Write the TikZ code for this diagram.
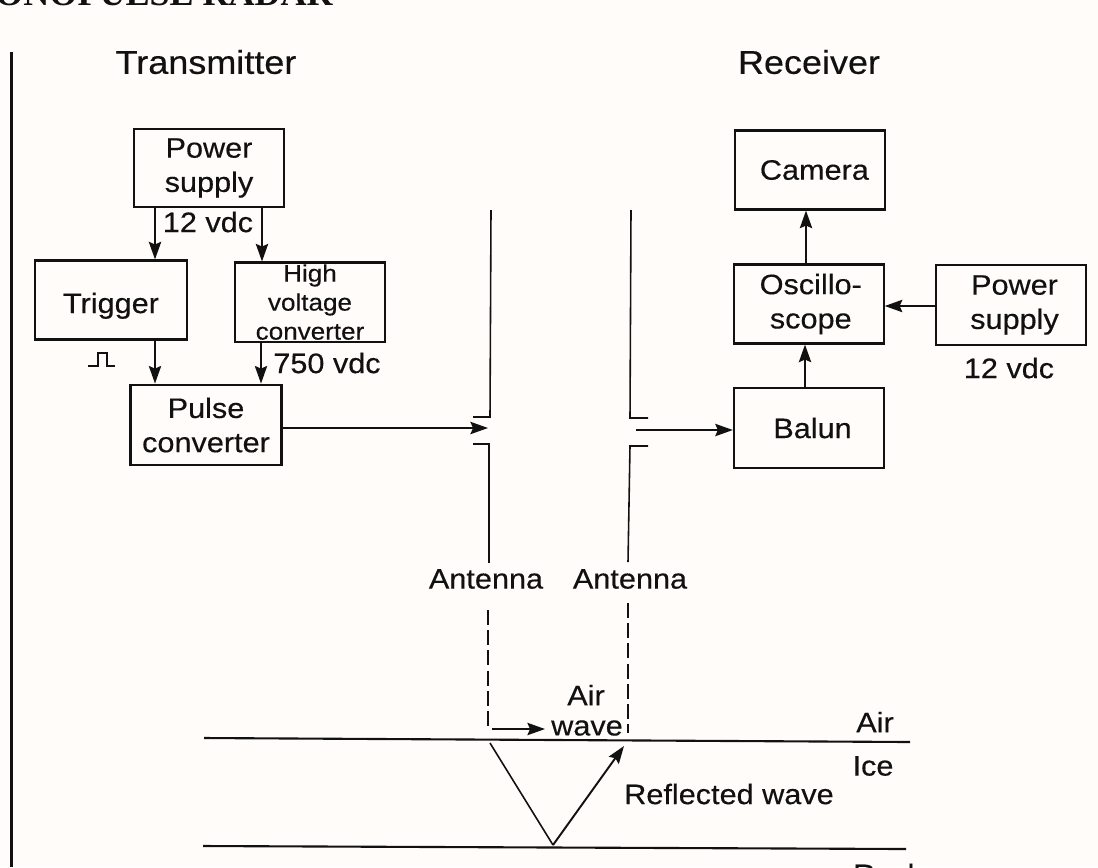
\documentclass[tikz,border=0pt]{standalone}
\usepackage{fontspec}
\setmainfont[FakeStretch=1.09,FakeBold=0.35]{Liberation Sans}
\newfontfamily\titlefont{Liberation Serif}
\usetikzlibrary{arrows.meta}
\definecolor{paper}{HTML}{FFFCFA}
\definecolor{ink}{HTML}{111111}
\tikzset{
  block/.style={draw=ink,line width=1.2pt,rectangle,align=center,text=ink,font=\fontsize{16}{19.5}\selectfont},
  smallblock/.style={block,font=\fontsize{13.6}{16.5}\selectfont},
  lbl/.style={text=ink,inner sep=0pt,align=center,font=\fontsize{16}{19.5}\selectfont},
  headlbl/.style={lbl,font=\fontsize{18.8}{22}\selectfont},
  feed/.style={draw=ink,line width=1.1pt,-{Stealth[length=10pt,width=7pt,inset=1.5pt]}},
  wire/.style={draw=ink,line width=.9pt},
  ground/.style={draw=ink,line width=1.2pt},
}
\begin{document}
\begin{tikzpicture}[x=0.02cm,y=-0.02cm]
\clip (0,0) rectangle (1098,867);
\fill[paper] (0,0) rectangle (1098,867);

\node[text=ink,inner sep=0pt,anchor=base east,font=\fontsize{20.5}{24}\titlefont\bfseries] (title) at (333,5) {MONOPULSE RADAR};
\coordinate (margintop) at (11.5,52);
\coordinate (marginbot) at (11.5,867);
\draw[draw=ink,line width=1.5pt] (margintop) -- (marginbot);

% transmitter
\node[headlbl] (txhead) at (206,62) {Transmitter};
\node[block,minimum width=85pt,minimum height=44.5pt] (txpower) at (209,168) {Power\\supply};
\node[block,minimum width=87pt,minimum height=45pt,text height=14.8pt,text depth=0pt] (trigger) at (111,300) {Trigger};
\node[smallblock,minimum width=85pt,minimum height=45pt,inner sep=0pt,yshift=-.6pt] (hvconv) at (310,301) {High\\voltage\\converter};
\node[block,minimum width=86pt,minimum height=46pt] (pulse) at (206,425) {Pulse\\converter};
\node[lbl] (txvolt) at (208,222) {12 vdc};
\node[lbl] (hvvolt) at (327,363) {750 vdc};

\coordinate (pa) at (88,366);
\coordinate (pb) at (98,366);
\coordinate (pc) at (98,353);
\coordinate (pd) at (107,353);
\coordinate (pe) at (107,366);
\coordinate (pf) at (115,366);
\draw[wire] (pa) -- (pb) -- (pc) -- (pd) -- (pe) -- (pf);

\draw[feed] (txpower.south -| 155,0) -- (trigger.north -| 155,0);
\draw[feed] (txpower.south -| 262,0) -- (hvconv.north -| 262,0);
\draw[feed] (trigger.south -| 155,0) -- (pulse.north -| 155,0);
\draw[feed] (hvconv.south -| 261,0) -- (pulse.north -| 261,0);

% antennas
\coordinate (ltop) at (491,210);
\coordinate (lup) at (490,417);
\coordinate (lupend) at (473,417);
\coordinate (ldownend) at (473,444);
\coordinate (ldown) at (489,444);
\coordinate (lbot) at (489,563);
\coordinate (rtop) at (631,210);
\coordinate (rup) at (630,418);
\coordinate (rupend) at (648,418);
\coordinate (rdownend) at (648,446);
\coordinate (rdown) at (630,446);
\coordinate (rbot) at (628,562);
\draw[wire] (ltop) -- (lup) -- (lupend);
\draw[wire] (ldownend) -- (ldown) -- (lbot);
\draw[wire] (rtop) -- (rup) -- (rupend);
\draw[wire] (rdownend) -- (rdown) -- (rbot);
\node[lbl] (lant) at (486,579) {Antenna};
\node[lbl] (rant) at (630,579) {Antenna};

\coordinate (lfeed) at (488,428);
\coordinate (rfeed) at (636,430);
\draw[feed] (pulse.east |- lfeed) -- (lfeed);

% receiver
\node[headlbl] (rxhead) at (809,62) {Receiver};
\node[block,minimum width=85pt,minimum height=45pt] (camera) at (810,170) {\hspace*{5pt}Camera};
\node[block,minimum width=85pt,minimum height=45pt] (scope) at (809,304) {\hspace*{2pt}Oscillo-\\\hspace*{2pt}scope};
\node[block,minimum width=85pt,minimum height=45.5pt] (rxpower) at (1011,305) {\hspace*{4pt}Power\\\hspace*{4pt}supply};
\node[block,minimum width=85.5pt,minimum height=45.5pt] (balun) at (809,428) {\hspace*{4pt}Balun};
\node[lbl] (rxvolt) at (1009,368) {12 vdc};

\draw[feed] (rfeed) -- (balun.west |- rfeed);
\draw[feed] (scope.north -| 806,0) -- (camera.south -| 806,0);
\draw[feed] (rxpower.west |- 0,306) -- (scope.east |- 0,306);
\draw[feed] (balun.north -| 805,0) -- (scope.south -| 805,0);

% ice section
\coordinate (dla) at (488,610);
\coordinate (dlb) at (488,731);
\coordinate (dra) at (628,603);
\coordinate (drb) at (628,733);
\draw[wire,dash pattern=on 8.5pt off 3pt] (dla) -- (dlb);
\draw[wire,dash pattern=on 8.5pt off 3pt] (dra) -- (drb);

\coordinate (aira) at (204,738);
\coordinate (airb) at (910,742);
\coordinate (rocka) at (203,846);
\coordinate (rockb) at (906,849);
\draw[ground] (aira) -- (airb);
\draw[ground] (rocka) -- (rockb);

\coordinate (wavea) at (492,729);
\coordinate (waveb) at (545,729);
\draw[feed] (wavea) -- (waveb);
\node[lbl] (airwave) at (586,695) {Air};
\node[lbl] (wavetxt) at (587,728) {wave};
\coordinate (dip) at (490,743);
\coordinate (bounce) at (553,845);
\coordinate (arrive) at (624,746);
\draw[wire] (dip) -- (bounce);
\draw[feed] (bounce) -- (arrive);
\node[lbl] (refl) at (729,794) {Reflected wave};
\node[lbl] (airlbl) at (875,722) {Air};
\node[lbl] (icelbl) at (873,766) {Ice};
\node[lbl] (rocklbl) at (888,874) {Rock};
\end{tikzpicture}
\end{document}
